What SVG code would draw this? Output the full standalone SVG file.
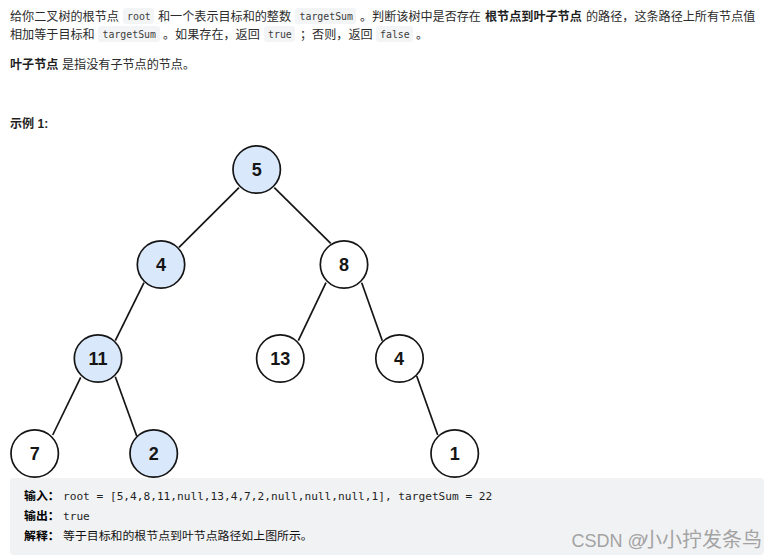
<svg xmlns="http://www.w3.org/2000/svg" width="778" height="559" viewBox="0 0 778 559">
<style>
text{font-family:"Liberation Sans","Noto Sans CJK SC",sans-serif}
.t{font-size:12.1px;fill:#2b2b2b}
.b{font-weight:700;fill:#1f1f1f}
.c{font-family:"DejaVu Sans Mono","Noto Sans CJK SC",monospace;font-size:9.9px;fill:#3c3c3c}
.cb{fill:#f3f4f6}
.p{font-family:"DejaVu Sans Mono","Noto Sans CJK SC",monospace;font-size:11.15px;fill:#1f1f1f}
.q{font-size:11.9px;fill:#111}
.q.b{fill:#000;font-weight:700}
circle{stroke:#151515;stroke-width:1.7;fill:#fff}
circle.h{fill:#dae8fc}
.l{font-family:"Liberation Sans",sans-serif;font-weight:700;font-size:18px;fill:#151515;text-anchor:middle}
#connectors line{stroke:#151515;stroke-width:1.7}
</style>
<rect width="778" height="559" fill="#fff"/>
<g id="description">
<rect class="cb" x="123" y="8" width="31" height="16" rx="3"/>
<rect class="cb" x="295" y="8" width="61" height="16" rx="3"/>
<rect class="cb" x="98" y="26" width="62" height="16" rx="3"/>
<rect class="cb" x="264" y="26" width="31" height="16" rx="3"/>
<rect class="cb" x="376" y="26" width="37" height="16" rx="3"/>
<text class="t" x="10" y="21">给你二叉树的根节点</text>
<text class="c" x="127" y="20">root</text>
<text class="t" x="158" y="21">和一个表示目标和的整数</text>
<text class="c" x="299.500" y="20">targetSum</text>
<text class="t" x="360" y="21">。判断该树中是否存在</text>
<text class="t b" x="485" y="21">根节点到叶子节点</text>
<text class="t" x="586" y="21">的路径，这条路径上所有节点值</text>
<text class="t" x="10" y="39">相加等于目标和</text>
<text class="c" x="102.500" y="38">targetSum</text>
<text class="t" x="163" y="39">。如果存在，返回</text>
<text class="c" x="268" y="38">true</text>
<text class="t" x="300" y="39">；否则，返回</text>
<text class="c" x="380" y="38">false</text>
<text class="t" x="416" y="39">。</text>
<text class="t b" x="10" y="69">叶子节点</text>
<text class="t" x="62" y="69">是指没有子节点的节点。</text>
<text class="t b" x="10" y="128">示例 1:</text>
</g>
<g id="connectors">
<line x1="239" y1="187.700" x2="179" y2="247.300"/>
<line x1="274.300" y1="187.700" x2="330.700" y2="243.300"/>
<line x1="144" y1="282.700" x2="115.300" y2="340.700"/>
<line x1="326" y1="282.700" x2="298.300" y2="340.700"/>
<line x1="361.700" y1="282.700" x2="382.300" y2="340.700"/>
<line x1="80.700" y1="377.300" x2="52.700" y2="435"/>
<line x1="115.300" y1="376.700" x2="136.700" y2="436"/>
<line x1="416.700" y1="376" x2="437.700" y2="435"/>
</g>
<g id="n5"><circle class="h" cx="256.700" cy="169.500" r="23.700"/><text class="l" x="256.700" y="176">5</text></g>
<g id="n4a"><circle class="h" cx="161" cy="264.500" r="23.700"/><text class="l" x="161" y="271">4</text></g>
<g id="n8"><circle cx="344" cy="264.500" r="23.700"/><text class="l" x="344" y="271">8</text></g>
<g id="n11"><circle class="h" cx="98" cy="358.500" r="23.700"/><text class="l" x="98" y="365">11</text></g>
<g id="n13"><circle cx="280.300" cy="358.500" r="23.700"/><text class="l" x="280.300" y="365">13</text></g>
<g id="n4b"><circle cx="399.500" cy="358.500" r="23.700"/><text class="l" x="399" y="365">4</text></g>
<g id="n7"><circle cx="34.700" cy="453.500" r="23.700"/><text class="l" x="34.700" y="460">7</text></g>
<g id="n2"><circle class="h" cx="153.700" cy="453.500" r="23.700"/><text class="l" x="153.700" y="460">2</text></g>
<g id="n1"><circle cx="454.700" cy="453.500" r="23.700"/><text class="l" x="454.700" y="460">1</text></g>
<g id="example">
<rect x="10" y="478" width="754" height="77" rx="4" fill="#f1f2f4"/>
<text class="q b" x="24" y="500">输入：</text>
<text class="p" x="63" y="500">root = [5,4,8,11,null,13,4,7,2,null,null,null,1], targetSum = 22</text>
<text class="q b" x="24" y="520">输出：</text>
<text class="p" x="63" y="520">true</text>
<text class="q b" x="24" y="540">解释：</text>
<text class="q" x="63" y="540">等于目标和的根节点到叶节点路径如上图所示。</text>
</g>
<text x="571.500" y="547" font-size="18" fill="#a3a3a3">CSDN @<tspan x="642" font-size="20">小小拧发条鸟</tspan></text>
</svg>
